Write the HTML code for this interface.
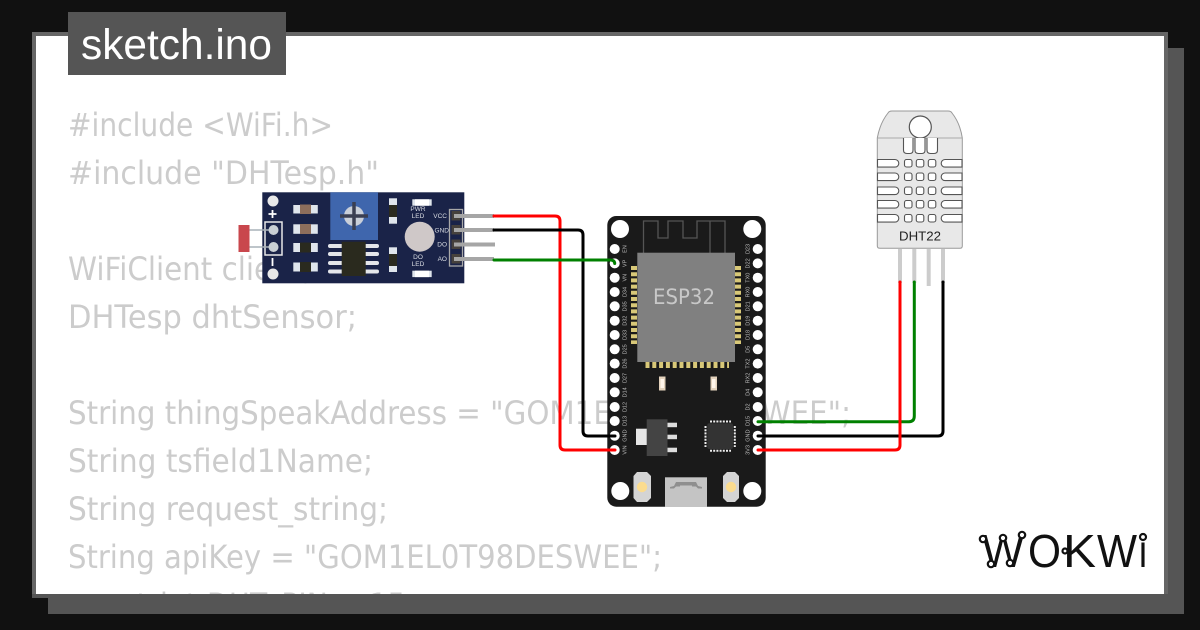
<!DOCTYPE html>
<html><head><meta charset="utf-8"><style>html,body{margin:0;padding:0;background:#111}svg{display:block}</style></head><body>
<svg xmlns="http://www.w3.org/2000/svg" width="1200" height="630" viewBox="0 0 1200 630" font-family="'Liberation Sans',sans-serif">
<defs><clipPath id="c"><rect x="36" y="36" width="1128" height="558"/></clipPath></defs>
<rect width="1200" height="630" fill="#111"/>
<rect x="48" y="48" width="1136" height="566" fill="#555"/>
<rect x="32" y="32" width="1136" height="566" fill="#666"/>
<rect x="32" y="594" width="1136" height="4" fill="#555"/>
<rect x="36" y="36" width="1128" height="558" fill="#fff"/>
<g clip-path="url(#c)" font-size="32" fill="#ccc" font-family="'DejaVu Sans',sans-serif">
<text x="68" y="136" textLength="265" lengthAdjust="spacingAndGlyphs">#include &lt;WiFi.h&gt;</text>
<text x="68" y="184" textLength="311" lengthAdjust="spacingAndGlyphs">#include "DHTesp.h"</text>
<text x="68" y="280" textLength="244" lengthAdjust="spacingAndGlyphs">WiFiClient client;</text>
<text x="68" y="328" textLength="289" lengthAdjust="spacingAndGlyphs">DHTesp dhtSensor;</text>
<text x="68" y="424" textLength="783" lengthAdjust="spacingAndGlyphs">String thingSpeakAddress = "GOM1EL0T98DESWEE";</text>
<text x="68" y="472" textLength="305" lengthAdjust="spacingAndGlyphs">String tsfield1Name;</text>
<text x="68" y="520" textLength="320" lengthAdjust="spacingAndGlyphs">String request_string;</text>
<text x="68" y="568" textLength="594" lengthAdjust="spacingAndGlyphs">String apiKey = "GOM1EL0T98DESWEE";</text>
<text x="68" y="616" textLength="80" lengthAdjust="spacingAndGlyphs">const</text>
<text x="160" y="616" textLength="37" lengthAdjust="spacingAndGlyphs">int</text>
<text x="207" y="616" textLength="208" lengthAdjust="spacingAndGlyphs">DHT_PIN = 15;</text>
</g>
<rect x="68" y="12" width="218" height="63" fill="#555"/>
<text x="81" y="59" font-size="43" fill="#fff" textLength="191" lengthAdjust="spacingAndGlyphs">sketch.ino</text>

<!-- LDR module -->
<path d="M240 230H273M240 247H273" stroke="#a9b2b8" stroke-width="1.5"/>
<rect x="238.500" y="225" width="11" height="27" fill="#c9474d"/>
<rect x="262.300" y="192.300" width="202" height="91" fill="#1a2348"/>
<circle cx="273" cy="201" r="5.500" fill="#e8e8e8"/><circle cx="273" cy="274" r="5.500" fill="#e8e8e8"/>
<path d="M268.500 214h8M272.500 210v8M272.500 258v8" stroke="#fff" stroke-width="1.800"/>
<rect x="265" y="222" width="17" height="33" fill="none" stroke="#e8e8e8" stroke-width="1.500"/>
<path d="M262.300 230H273M262.300 247H273" stroke="#a9b2b8" stroke-width="1.500"/>
<circle cx="273.500" cy="230" r="5" fill="#c9cfd4"/><circle cx="273.500" cy="247" r="5" fill="#c9cfd4"/>
<g fill="#dfe5ec"><rect x="293.300" y="205" width="24.500" height="8.500"/><rect x="293.300" y="224.300" width="24.500" height="9.500"/><rect x="293.300" y="243" width="24.500" height="9"/><rect x="293.300" y="262.500" width="24.500" height="9"/></g>
<rect x="300" y="204.500" width="11" height="9.500" fill="#8d6e5c"/><rect x="300" y="224" width="11" height="10" fill="#8d6e5c"/>
<rect x="300" y="242.500" width="11" height="10" fill="#2a2a1f"/><rect x="300" y="262" width="11" height="10" fill="#2a2a1f"/>
<rect x="330.300" y="192.300" width="47.700" height="47.700" fill="#3f66ad"/>
<circle cx="354" cy="216" r="10" fill="#c9cfd9"/>
<path d="M340 216H368M354 202V230" stroke="#3a3f52" stroke-width="3.500"/>
<g fill="#e4e6ea"><rect x="328" y="244" width="51" height="4" rx="2"/><rect x="328" y="252" width="51" height="4" rx="2"/><rect x="328" y="261" width="51" height="4" rx="2"/><rect x="328" y="269.500" width="51" height="4" rx="2"/></g>
<rect x="341.700" y="241.700" width="24" height="34.300" fill="#2a2a1e"/>
<rect x="389" y="198.300" width="8" height="25.400" fill="#dfe5ec"/><rect x="389" y="205" width="8" height="12" fill="#2a2a1f"/>
<rect x="389" y="247.300" width="8" height="24.700" fill="#dfe5ec"/><rect x="389" y="254" width="8" height="12" fill="#2a2a1f"/>
<rect x="412.300" y="199.300" width="19.400" height="6.400" fill="#dfe5ec"/><rect x="415" y="199.300" width="14" height="6.400" fill="#fff"/>
<rect x="412.300" y="270.700" width="19.400" height="6.400" fill="#dfe5ec"/><rect x="415" y="270.700" width="14" height="6.400" fill="#fff"/>
<circle cx="419.700" cy="236.700" r="15" fill="#cfc8c8"/>
<g fill="#d8dbe2" font-size="6.500" text-anchor="middle"><text x="418" y="211">PWR</text><text x="418" y="218">LED</text><text x="418" y="259">DO</text><text x="418" y="266">LED</text></g>
<g fill="#d8dbe2" font-size="6.500" text-anchor="end"><text x="447" y="218">VCC</text><text x="449" y="232.500">GND</text><text x="447" y="246.500">DO</text><text x="447" y="261">AO</text></g>
<rect x="449.500" y="209.500" width="13" height="56.500" fill="none" stroke="#a8a8a8" stroke-width="1.300"/>
<g fill="#46413c"><rect x="451.500" y="211" width="9" height="9.500"/><rect x="451.500" y="225" width="9" height="9.500"/><rect x="451.500" y="239.500" width="9" height="9.500"/><rect x="451.500" y="254" width="9" height="9.500"/></g>
<path d="M454 216H494M454 230H494M454 244.500H495M454 259H494" stroke="#a6a6a6" stroke-width="4"/>

<!-- ESP32 -->
<rect x="607.300" y="216" width="158.400" height="290.700" rx="9" fill="#1a1a1a"/>
<circle cx="620" cy="229" r="9" fill="#fff"/><circle cx="752.300" cy="229" r="9" fill="#fff"/>
<circle cx="620.300" cy="491" r="9" fill="#fff"/><circle cx="752.300" cy="491" r="9" fill="#fff"/>
<path d="M643.500 253V221H658V238H668V221H683V238H697V221H725V253M710 221V253" fill="none" stroke="#555" stroke-width="1.300"/>
<path d="M634 266V344M738 266V344" stroke="#d8c878" stroke-width="6" stroke-dasharray="4 2.200"/>
<path d="M645.500 365H729" stroke="#d8c878" stroke-width="6" stroke-dasharray="4 2.800"/>
<rect x="637.300" y="252.700" width="97.700" height="109.300" fill="#808080"/>
<text x="653" y="304" font-size="21" fill="#c8c8c8" font-family="'DejaVu Sans',sans-serif" textLength="62" lengthAdjust="spacingAndGlyphs">ESP32</text>
<rect x="659" y="376.500" width="6.500" height="14" fill="#e3d2bc"/><rect x="660.500" y="379" width="3.500" height="9" fill="#fff5ea"/>
<rect x="710.500" y="376.500" width="6.500" height="14" fill="#e3d2bc"/><rect x="712" y="379" width="3.500" height="9" fill="#fff5ea"/>
<rect x="636" y="428.700" width="11" height="16.300" fill="#e6e6e6"/>
<rect x="667" y="422.700" width="10" height="4.500" fill="#ddd"/><rect x="667" y="434.700" width="10" height="4.500" fill="#ddd"/><rect x="667" y="447.700" width="10" height="4.500" fill="#ddd"/>
<rect x="646.700" y="419.300" width="20.800" height="36.700" fill="#444"/>
<rect x="707.300" y="423.300" width="25.700" height="25.700" rx="2" fill="#333"/>
<path d="M710 421.500H731M710 450.800H731M705.500 426V447M734.800 426V447" stroke="#eee" stroke-width="2" stroke-dasharray="2 1.200"/>
<path d="M637 472h10l4 4v22l-4 4h-10l-3.500-4v-22z" fill="#d4d4d4"/><circle cx="642" cy="487" r="5.200" fill="#fbdc8f"/>
<path d="M727 472h8l4 4v22l-4 4h-8l-4-4v-22z" fill="#d4d4d4"/><circle cx="731" cy="487" r="5.200" fill="#fbdc8f"/>
<rect x="665" y="477.300" width="42" height="29.700" fill="#c4c4c4"/>
<path d="M670 487l4-1 2-4h20l2 4 4 1v1.500h-4l-2-2h-4v-1h-12v1h-4l-2 2h-4z" fill="#8f8f8f"/>
<g fill="#fff"><circle cx="614.700" cy="249" r="5"/><circle cx="614.700" cy="263.400" r="5"/><circle cx="614.700" cy="277.700" r="5"/><circle cx="614.700" cy="292" r="5"/><circle cx="614.700" cy="306.300" r="5"/><circle cx="614.700" cy="320.700" r="5"/><circle cx="614.700" cy="335" r="5"/><circle cx="614.700" cy="349.300" r="5"/><circle cx="614.700" cy="363.600" r="5"/><circle cx="614.700" cy="378" r="5"/><circle cx="614.700" cy="392.300" r="5"/><circle cx="614.700" cy="407" r="5"/><circle cx="614.700" cy="421" r="5"/><circle cx="614.700" cy="435.700" r="5"/><circle cx="614.700" cy="450" r="5"/>
<circle cx="757.700" cy="249" r="5"/><circle cx="757.700" cy="263.400" r="5"/><circle cx="757.700" cy="277.700" r="5"/><circle cx="757.700" cy="292" r="5"/><circle cx="757.700" cy="306.300" r="5"/><circle cx="757.700" cy="320.700" r="5"/><circle cx="757.700" cy="335" r="5"/><circle cx="757.700" cy="349.300" r="5"/><circle cx="757.700" cy="363.600" r="5"/><circle cx="757.700" cy="378" r="5"/><circle cx="757.700" cy="392.300" r="5"/><circle cx="757.700" cy="407" r="5"/><circle cx="757.700" cy="421" r="5"/><circle cx="757.700" cy="435.700" r="5"/><circle cx="757.700" cy="450" r="5"/></g>
<g fill="#bbb" font-size="5.500" text-anchor="middle">
<text transform="translate(626.500 249) rotate(-90)">EN</text><text transform="translate(626.500 263.400) rotate(-90)">VP</text><text transform="translate(626.500 277.700) rotate(-90)">VN</text><text transform="translate(626.500 292) rotate(-90)">D34</text><text transform="translate(626.500 306.300) rotate(-90)">D35</text><text transform="translate(626.500 320.700) rotate(-90)">D32</text><text transform="translate(626.500 335) rotate(-90)">D33</text><text transform="translate(626.500 349.300) rotate(-90)">D25</text><text transform="translate(626.500 363.600) rotate(-90)">D26</text><text transform="translate(626.500 378) rotate(-90)">D27</text><text transform="translate(626.500 392.300) rotate(-90)">D14</text><text transform="translate(626.500 407) rotate(-90)">D12</text><text transform="translate(626.500 421) rotate(-90)">D13</text><text transform="translate(626.500 435.700) rotate(-90)">GND</text><text transform="translate(626.500 450) rotate(-90)">VIN</text>
<text transform="translate(749.500 249) rotate(-90)">D23</text><text transform="translate(749.500 263.400) rotate(-90)">D22</text><text transform="translate(749.500 277.700) rotate(-90)">TX0</text><text transform="translate(749.500 292) rotate(-90)">RX0</text><text transform="translate(749.500 306.300) rotate(-90)">D21</text><text transform="translate(749.500 320.700) rotate(-90)">D19</text><text transform="translate(749.500 335) rotate(-90)">D18</text><text transform="translate(749.500 349.300) rotate(-90)">D5</text><text transform="translate(749.500 363.600) rotate(-90)">TX2</text><text transform="translate(749.500 378) rotate(-90)">RX2</text><text transform="translate(749.500 392.300) rotate(-90)">D4</text><text transform="translate(749.500 407) rotate(-90)">D2</text><text transform="translate(749.500 421) rotate(-90)">D15</text><text transform="translate(749.500 435.700) rotate(-90)">GND</text><text transform="translate(749.500 450) rotate(-90)">3V3</text></g>

<!-- DHT22 -->
<path d="M877.300 138Q880 123 888 113Q889 111 892 111H948Q951 111 952 113Q960 123 962.300 138V246Q962.300 248.300 960 248.300H880Q877.300 248.300 877.300 246Z" fill="#e8e8e8" stroke="#999" stroke-width="1"/>
<path d="M877.300 138H962.300" stroke="#aaa" stroke-width="1"/>
<circle cx="920.300" cy="127" r="11" fill="#fff" stroke="#555" stroke-width="1.200"/>
<path d="M903.500 138V150Q903.500 153.500 907 153.500H910Q913 153.500 913 150V138M915 138V150Q915 153.500 918.500 153.500H922Q925 153.500 925 150V138M927 138V150Q927 153.500 930.500 153.500H934Q937.500 153.500 937.500 150V138" fill="#fff" stroke="#555" stroke-width="1.100"/>
<g fill="#fff" stroke="#555" stroke-width="1.100">
<path d="M877.500 159.500H895a3.800 3.800 0 0 1 0 7.600H877.500zM877.500 173H895a3.800 3.800 0 0 1 0 7.600H877.500zM877.500 187H895a3.800 3.800 0 0 1 0 7.600H877.500zM877.500 200.500H895a3.800 3.800 0 0 1 0 7.600H877.500zM877.500 214.500H895a3.800 3.800 0 0 1 0 7.600H877.500z"/>
<path d="M962 159.500H945a3.800 3.800 0 0 0 0 7.600H962zM962 173H945a3.800 3.800 0 0 0 0 7.600H962zM962 187H945a3.800 3.800 0 0 0 0 7.600H962zM962 200.500H945a3.800 3.800 0 0 0 0 7.600H962zM962 214.500H945a3.800 3.800 0 0 0 0 7.600H962z"/>
<rect x="904.500" y="159.500" width="7.500" height="7.500" rx="2"/><rect x="916.300" y="159.500" width="7.500" height="7.500" rx="2"/><rect x="928.300" y="159.500" width="7.500" height="7.500" rx="2"/>
<rect x="904.500" y="173" width="7.500" height="7.500" rx="2"/><rect x="916.300" y="173" width="7.500" height="7.500" rx="2"/><rect x="928.300" y="173" width="7.500" height="7.500" rx="2"/>
<rect x="904.500" y="187" width="7.500" height="7.500" rx="2"/><rect x="916.300" y="187" width="7.500" height="7.500" rx="2"/><rect x="928.300" y="187" width="7.500" height="7.500" rx="2"/>
<rect x="904.500" y="200.500" width="7.500" height="7.500" rx="2"/><rect x="916.300" y="200.500" width="7.500" height="7.500" rx="2"/><rect x="928.300" y="200.500" width="7.500" height="7.500" rx="2"/>
<rect x="904.500" y="214.500" width="7.500" height="7.500" rx="2"/><rect x="916.300" y="214.500" width="7.500" height="7.500" rx="2"/><rect x="928.300" y="214.500" width="7.500" height="7.500" rx="2"/>
</g>
<text x="899" y="240.500" font-size="12.500" fill="#222" textLength="42" lengthAdjust="spacingAndGlyphs">DHT22</text>
<path d="M900 249V283M914.300 249V283M928.700 249V286M943 249V283" stroke="#ccc" stroke-width="4"/>

<!-- wires -->
<g fill="none" stroke-width="3" stroke-linecap="round" stroke-linejoin="round">
<path d="M494 216H555Q560 216 560 221V445Q560 450 565 450H615" stroke="#f00"/>
<path d="M494 230H578Q583 230 583 235V431Q583 436 588 436H615" stroke="#000"/>
<path d="M494 260H610Q614.700 260 614.700 263.500" stroke="#008000"/>
<path d="M758 421.700H909Q914.300 421.700 914.300 416V282" stroke="#008000"/>
<path d="M758 436H938Q943 436 943 431V282" stroke="#000"/>
<path d="M758 450H895Q900 450 900 445V282" stroke="#f00"/>
</g>

<!-- logo -->
<g fill="#111" font-size="46">
<text x="982" y="567" textLength="42" lengthAdjust="spacingAndGlyphs">W</text>
<text x="1028" y="567" textLength="33" lengthAdjust="spacingAndGlyphs">O</text>
<text x="1063" y="567" textLength="33" lengthAdjust="spacingAndGlyphs">K</text>
<text x="1097" y="567" textLength="40" lengthAdjust="spacingAndGlyphs">W</text>
<text x="1139" y="567" textLength="8" lengthAdjust="spacingAndGlyphs">i</text>
</g>
<g fill="#fff" stroke="#111" stroke-width="2.200"><circle cx="983" cy="539" r="3.200"/><circle cx="1003" cy="538" r="3.200"/><circle cx="1022" cy="535" r="3.200"/><circle cx="991" cy="564" r="3.200"/><circle cx="1010" cy="563" r="3.200"/><circle cx="1065" cy="551" r="2.500"/><circle cx="1143" cy="537" r="3"/></g>
</svg>
</body></html>
